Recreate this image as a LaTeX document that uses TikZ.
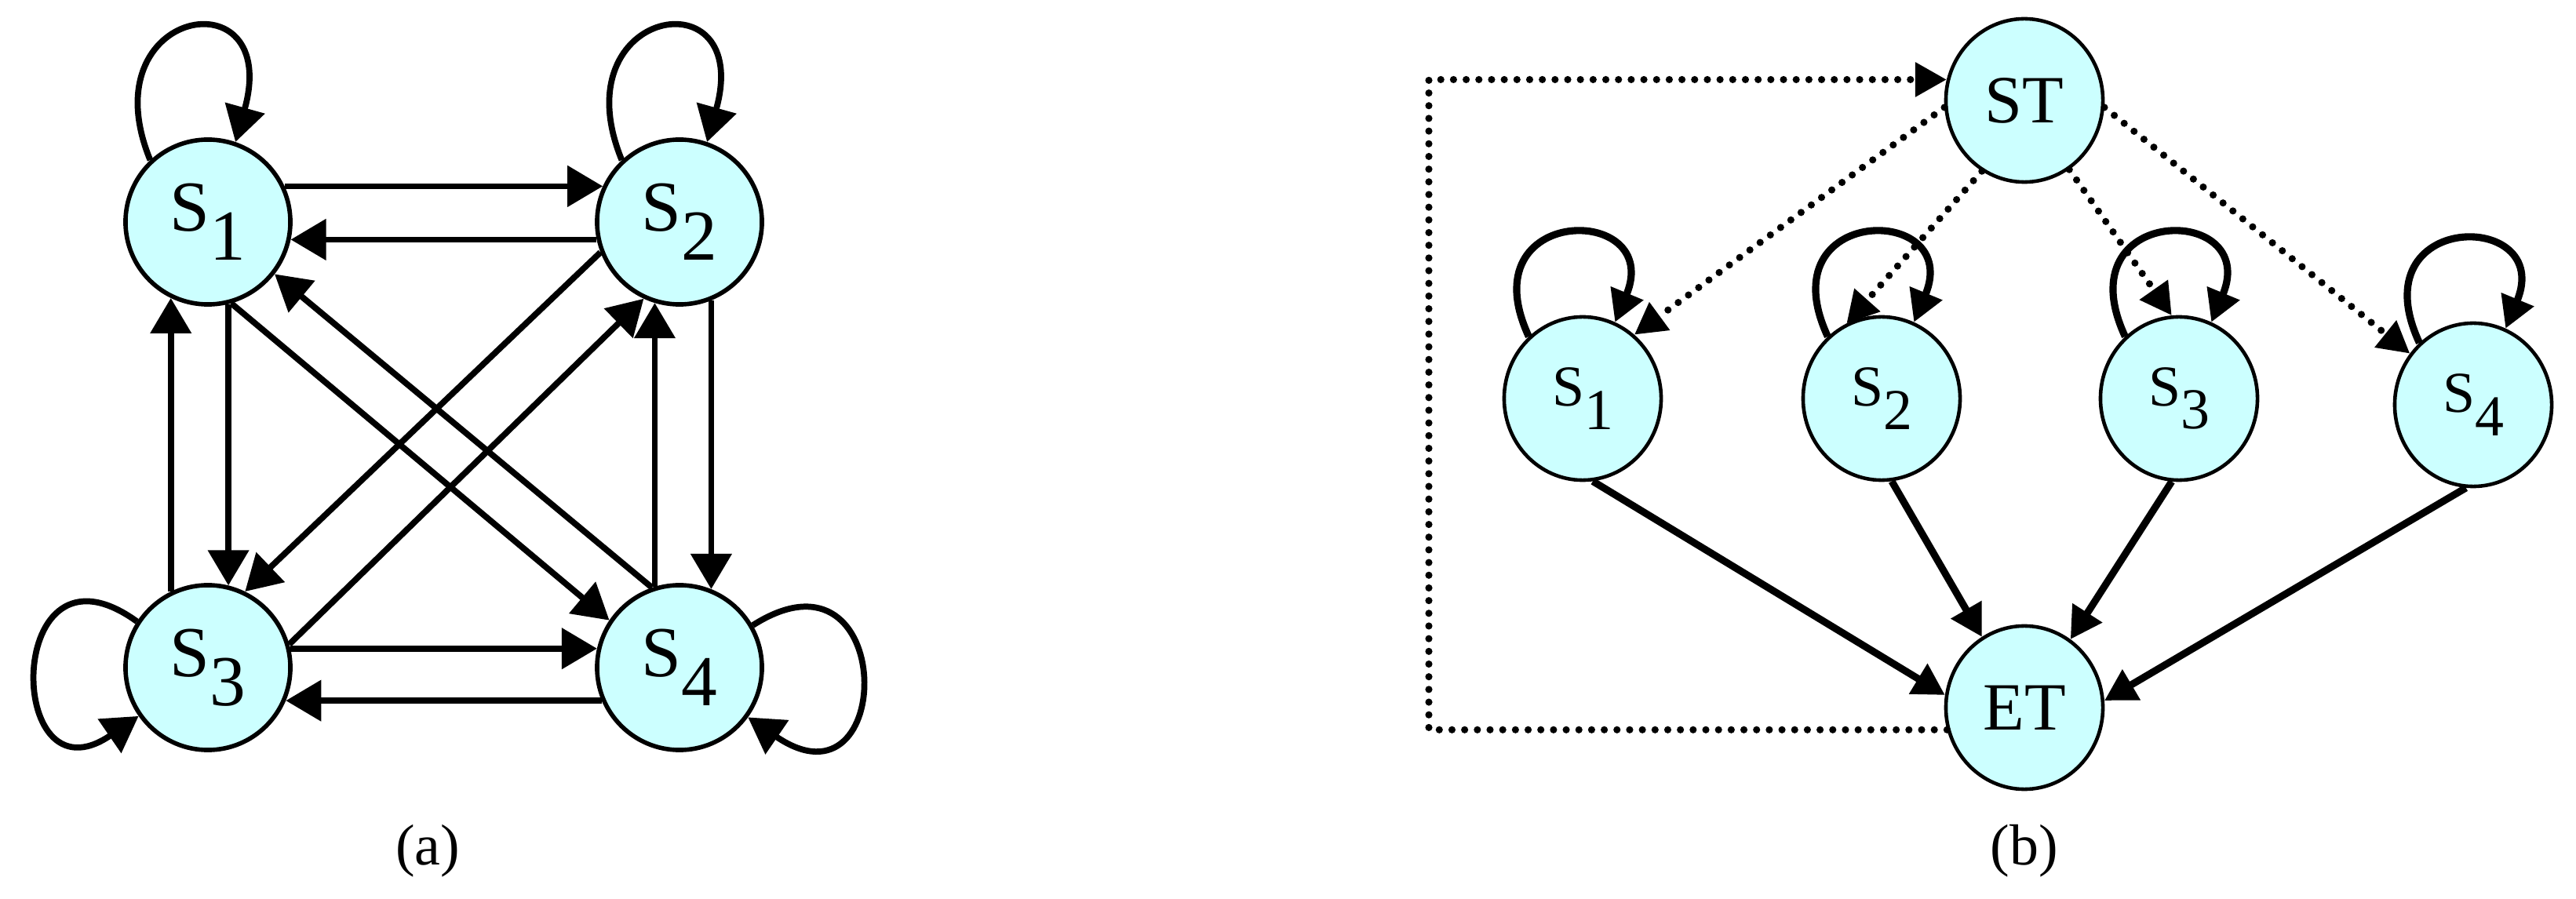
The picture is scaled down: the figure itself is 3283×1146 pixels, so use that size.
\documentclass[tikz,border=0pt]{standalone}
\usepackage{fontspec}
\setmainfont{Liberation Serif}
\usetikzlibrary{arrows.meta,shapes.geometric}
\definecolor{statefill}{HTML}{CCFFFF}
\newcommand{\sub}[2]{#1\raisebox{-.4em}{#2}}

\begin{document}
\begin{tikzpicture}[x=0.01cm, y=-0.01cm,
  state node/.style={circle, draw, line width=1.6pt, fill=statefill, minimum size=2.1cm, inner sep=0pt, font=\fontsize{26}{26}\selectfont},
  hmm node/.style={ellipse, draw, line width=1.3pt, fill=statefill, minimum width=2cm, minimum height=2.08cm, inner sep=0pt},
  link/.style={line width=2.2pt, -{Triangle[length=4.5mm, width=5.1mm]}},
  thick link/.style={line width=2.6pt, -{Triangle[length=4mm, width=4.3mm]}},
  dot link/.style={line width=2.6pt, line cap=round, dash pattern=on 0pt off 4.6pt, -{Triangle[length=4mm, width=4.2mm]}}]

  \useasboundingbox (0,0) rectangle (3283,1146);

  % (a)
  \node [state node] (S1) at (265,283) {\sub{S}{1}};
  \node [state node] (S2) at (866,283) {\sub{S}{2}};
  \node [state node] (S3) at (265,851) {\sub{S}{3}};
  \node [state node] (S4) at (866,851) {\sub{S}{4}};

  \draw [link] (S1.25) -- (S2.155);
  \draw [link] (S2.-168) -- (S1.-12);
  \draw [link] (S3.13) -- (S4.167);
  \draw [link] (S4.-157) -- (S3.-23);
  \draw [link] (S3.116) -- (S1.-116);
  \draw [link] (S1.-76) -- (S3.76);
  \draw [link] (S4.107) -- (S2.-107);
  \draw [link] (S2.-68) -- (S4.68);
  \draw [link] (S1.-74) -- (S4.146);
  \draw [link] (S4.109) -- (S1.-38);
  \draw [link] (S2.-159) -- (S3.64);
  \draw [link] (S3.16) -- (S2.-115);

  \draw [link] (S1.133) .. controls +(-80,-195) and +(60,-215) .. (S1.71);
  \draw [link] (S2.133) .. controls +(-80,-195) and +(60,-215) .. (S2.71);
  \draw [link] (S3.147) .. controls +(-170,-123) and +(-172,118) .. (S3.-145);
  \draw [link] (S4.30) .. controls +(185,-118) and +(190,130) .. (S4.-36);

  \node [font=\fontsize{21}{21}\selectfont] (capa) at (545,1085) {(a)};

  % (b)
  \node [hmm node, font=\fontsize{24.5}{24.5}\selectfont] (ST) at (2580,128) {ST};
  \node [hmm node, font=\fontsize{21}{21}\selectfont] (s1) at (2017,508) {\sub{S}{1}};
  \node [hmm node, font=\fontsize{21}{21}\selectfont] (s2) at (2398,508) {\sub{S}{2}};
  \node [hmm node, font=\fontsize{21}{21}\selectfont] (s3) at (2777,508) {\sub{S}{3}};
  \node [hmm node, font=\fontsize{21}{21}\selectfont] (s4) at (3152,516) {\sub{S}{4}};
  \node [hmm node, font=\fontsize{24.5}{24.5}\selectfont] (ET) at (2580,902) {ET};

  \draw [dot link] (ST.185) -- (s1.51);
  \draw [dot link] (ST.-121) -- (s2.115);
  \draw [dot link] (ST.-57) -- (s3.95);
  \draw [dot link] (ST.-5) -- (s4.141);
  \coordinate (back) at (1821,500);
  \draw [dot link] (ET.196) -| (back) |- (ST.165);

  \draw [thick link] (s1.-83) -- (ET.171);
  \draw [thick link] (s2.-83) -- (ET.121);
  \draw [thick link] (s3.-95) -- (ET.56);
  \draw [thick link] (s4.-95) -- (ET.5);

  \foreach \s in {s1,s2,s3,s4}
    \draw [thick link] (\s.131) .. controls +(-79,-170) and +(63,-152) .. (\s.67);

  \node [font=\fontsize{21}{21}\selectfont] (capb) at (2580,1085) {(b)};
\end{tikzpicture}
\end{document}
